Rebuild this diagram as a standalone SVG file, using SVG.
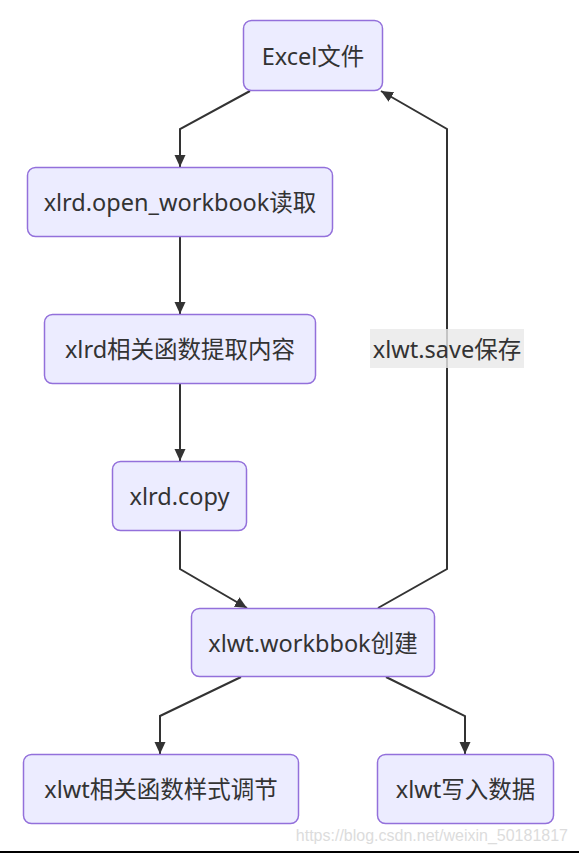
<svg xmlns="http://www.w3.org/2000/svg" width="579" height="853" viewBox="0 0 579 853">
<defs>
<marker id="arrow" viewBox="0 0 12 12" refX="12" refY="6" markerWidth="12" markerHeight="12" markerUnits="userSpaceOnUse" orient="auto">
<path d="M0,0.5 L12,6 L0,11.5 z" fill="#333333"/>
</marker>
<style>
.node rect{fill:#ECECFF;stroke:#9370DB;stroke-width:1.5}
.node text,.lbl text{font-family:"Noto Sans","Noto Sans CJK SC",sans-serif;font-size:23.5px;fill:#333333;text-anchor:middle;dominant-baseline:central}
.edge{fill:none;stroke:#333333;stroke-width:2}
</style>
</defs>
<rect x="0" y="0" width="579" height="853" fill="#ffffff"/>
<g id="connectors">
<polyline class="edge" points="250,91 180,129 180,167" marker-end="url(#arrow)"/>
<polyline class="edge" points="180,237 180,314" marker-end="url(#arrow)"/>
<polyline class="edge" points="180,384 180,461" marker-end="url(#arrow)"/>
<polyline class="edge" points="180,531 180,569 247,608" marker-end="url(#arrow)"/>
<polyline class="edge" points="378,608 447,569 447,129 381,91" marker-end="url(#arrow)"/>
<polyline class="edge" points="241,677 160,716 160,754" marker-end="url(#arrow)"/>
<polyline class="edge" points="386,677 465,716 465,754" marker-end="url(#arrow)"/>
<g class="lbl" id="label-save">
<rect x="370" y="329" width="154" height="39" fill="#e8e8e8" fill-opacity="0.8"/>
<text x="447" y="349">xlwt.save保存</text>
</g>
</g>
<g id="n-excel" class="node"><rect x="243.5" y="20.5" width="139" height="70" rx="8"/><text x="313" y="55.5">Excel文件</text></g>
<g id="n-open" class="node"><rect x="27.5" y="167.5" width="305" height="69" rx="8"/><text x="180" y="202">xlrd.open_workbook读取</text></g>
<g id="n-extract" class="node"><rect x="44.5" y="314.5" width="271" height="69" rx="8"/><text x="180" y="349">xlrd相关函数提取内容</text></g>
<g id="n-copy" class="node"><rect x="112.5" y="461.5" width="134" height="69" rx="8"/><text x="179.5" y="496">xlrd.copy</text></g>
<g id="n-workbook" class="node"><rect x="191.5" y="608.5" width="243" height="68" rx="8"/><text x="313" y="642.5">xlwt.workbbok创建</text></g>
<g id="n-style" class="node"><rect x="23.5" y="754.5" width="275" height="69" rx="8"/><text x="161" y="789">xlwt相关函数样式调节</text></g>
<g id="n-write" class="node"><rect x="377.5" y="754.5" width="176" height="69" rx="8"/><text x="465.5" y="789">xlwt写入数据</text></g>
<text x="568" y="841" font-family="Liberation Sans, Arial, sans-serif" font-size="16" fill="#dcdcdc" text-anchor="end">https://blog.csdn.net/weixin_50181817</text>
<rect x="0" y="851" width="579" height="2" fill="#000000"/>
</svg>
